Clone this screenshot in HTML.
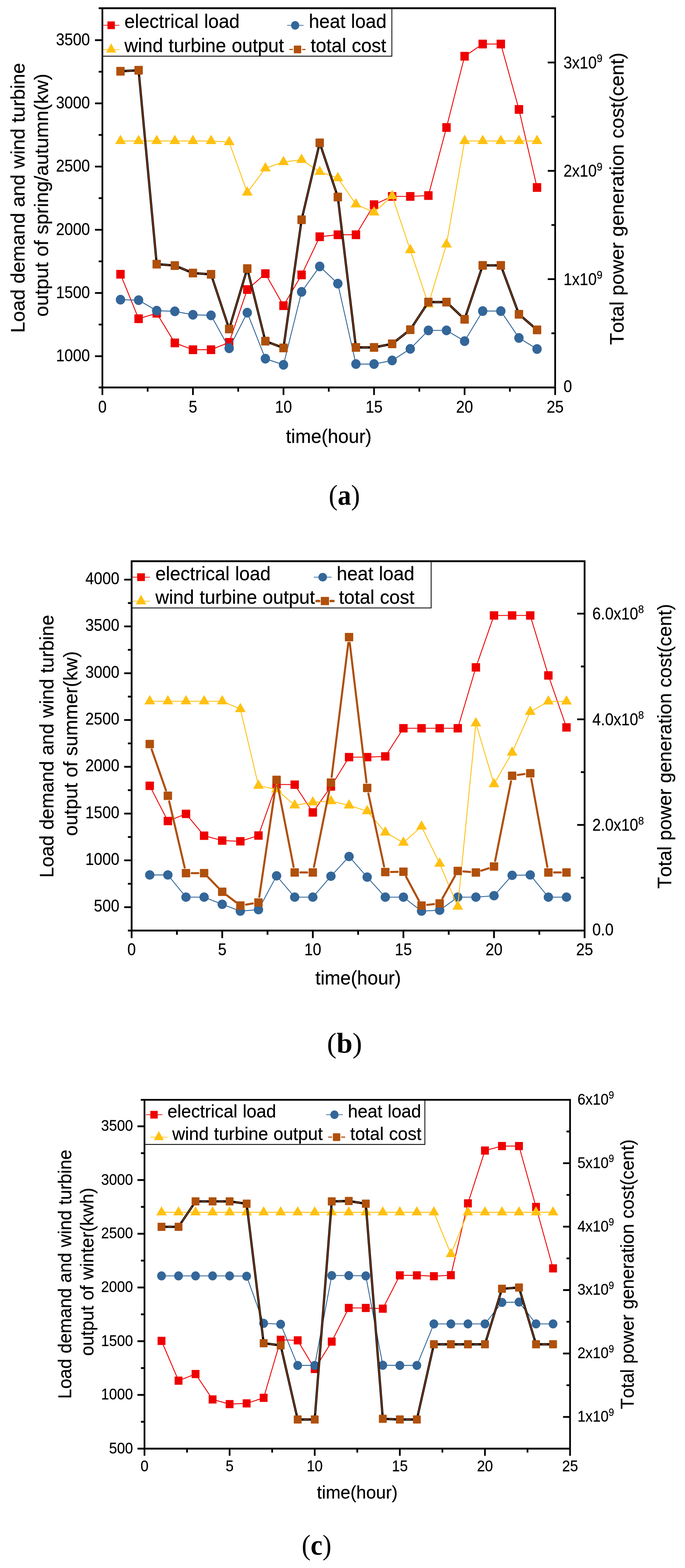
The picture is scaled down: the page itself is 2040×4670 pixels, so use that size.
<!DOCTYPE html>
<html lang="en">
<head>
<meta charset="utf-8">
<title>Load demand, wind turbine output and total power generation cost</title>
<style>
html,body{margin:0;padding:0;background:#fff;}
body{width:2040px;height:4670px;overflow:hidden;font-family:"Liberation Sans",sans-serif;}
svg{display:block;}
text{font-kerning:none;font-variant-ligatures:none;}
</style>
</head>
<body>
<svg width="2040" height="4670" viewBox="0 0 2040 4670" font-family="'Liberation Sans', sans-serif" fill="#000">
<g transform="scale(1 1.04)">
<polyline fill="none" stroke="#ee0000" stroke-width="2.6" points="358.84,785.38 412.77,912.79 466.71,897.12 520.64,982.02 574.58,1001.54 628.52,1001.54 682.45,980.48 736.39,829.23 790.32,783.65 844.26,875.38 898.2,787.21 952.13,677.98 1006.07,672.31 1060,672.31 1113.94,586.15 1167.88,562.5 1221.81,562.5 1275.75,560 1329.68,365.1 1383.62,161.06 1437.56,126.15 1491.49,126.15 1545.43,313.37 1599.36,536.92"/>
<g fill="#ee0000">
<rect x="346.34" y="772.88" width="25" height="25"/>
<rect x="400.27" y="900.29" width="25" height="25"/>
<rect x="454.21" y="884.62" width="25" height="25"/>
<rect x="508.14" y="969.52" width="25" height="25"/>
<rect x="562.08" y="989.04" width="25" height="25"/>
<rect x="616.02" y="989.04" width="25" height="25"/>
<rect x="669.95" y="967.98" width="25" height="25"/>
<rect x="723.89" y="816.73" width="25" height="25"/>
<rect x="777.82" y="771.15" width="25" height="25"/>
<rect x="831.76" y="862.88" width="25" height="25"/>
<rect x="885.7" y="774.71" width="25" height="25"/>
<rect x="939.63" y="665.48" width="25" height="25"/>
<rect x="993.57" y="659.81" width="25" height="25"/>
<rect x="1047.5" y="659.81" width="25" height="25"/>
<rect x="1101.44" y="573.65" width="25" height="25"/>
<rect x="1155.38" y="550" width="25" height="25"/>
<rect x="1209.31" y="550" width="25" height="25"/>
<rect x="1263.25" y="547.5" width="25" height="25"/>
<rect x="1317.18" y="352.6" width="25" height="25"/>
<rect x="1371.12" y="148.56" width="25" height="25"/>
<rect x="1425.06" y="113.65" width="25" height="25"/>
<rect x="1478.99" y="113.65" width="25" height="25"/>
<rect x="1532.93" y="300.87" width="25" height="25"/>
<rect x="1586.86" y="524.42" width="25" height="25"/>
</g>
<polyline fill="none" stroke="#336699" stroke-width="2.6" points="358.84,858.08 412.77,859.71 466.71,889.71 520.64,891.54 574.58,901.54 628.52,903.08 682.45,997.4 736.39,895.38 790.32,1027.21 844.26,1044.62 898.2,835.87 952.13,763.08 1006.07,812.31 1060,1042.6 1113.94,1042.6 1167.88,1032.31 1221.81,998.94 1275.75,946.15 1329.68,946.15 1383.62,976.92 1437.56,890.77 1491.49,890.77 1545.43,967.69 1599.36,999.52"/>
<g fill="#336699">
<circle cx="358.84" cy="858.08" r="13.95"/>
<circle cx="412.77" cy="859.71" r="13.95"/>
<circle cx="466.71" cy="889.71" r="13.95"/>
<circle cx="520.64" cy="891.54" r="13.95"/>
<circle cx="574.58" cy="901.54" r="13.95"/>
<circle cx="628.52" cy="903.08" r="13.95"/>
<circle cx="682.45" cy="997.4" r="13.95"/>
<circle cx="736.39" cy="895.38" r="13.95"/>
<circle cx="790.32" cy="1027.21" r="13.95"/>
<circle cx="844.26" cy="1044.62" r="13.95"/>
<circle cx="898.2" cy="835.87" r="13.95"/>
<circle cx="952.13" cy="763.08" r="13.95"/>
<circle cx="1006.07" cy="812.31" r="13.95"/>
<circle cx="1060" cy="1042.6" r="13.95"/>
<circle cx="1113.94" cy="1042.6" r="13.95"/>
<circle cx="1167.88" cy="1032.31" r="13.95"/>
<circle cx="1221.81" cy="998.94" r="13.95"/>
<circle cx="1275.75" cy="946.15" r="13.95"/>
<circle cx="1329.68" cy="946.15" r="13.95"/>
<circle cx="1383.62" cy="976.92" r="13.95"/>
<circle cx="1437.56" cy="890.77" r="13.95"/>
<circle cx="1491.49" cy="890.77" r="13.95"/>
<circle cx="1545.43" cy="967.69" r="13.95"/>
<circle cx="1599.36" cy="999.52" r="13.95"/>
</g>
<polyline fill="none" stroke="#ffc010" stroke-width="2.6" points="358.84,403.65 412.77,403.65 466.71,403.65 520.64,403.65 574.58,403.65 628.52,403.65 682.45,406.73 736.39,551.15 790.32,481.92 844.26,463.94 898.2,457.69 952.13,492.12 1006.07,510 1060,585 1113.94,608.08 1167.88,561.35 1221.81,716.15 1275.75,871.63 1329.68,699.71 1383.62,403.65 1437.56,403.65 1491.49,403.65 1545.43,403.65 1599.36,403.65"/>
<g fill="#ffc010">
<polygon points="358.84,385.9 342.84,412.53 374.84,412.53"/>
<polygon points="412.77,385.9 396.77,412.53 428.77,412.53"/>
<polygon points="466.71,385.9 450.71,412.53 482.71,412.53"/>
<polygon points="520.64,385.9 504.64,412.53 536.64,412.53"/>
<polygon points="574.58,385.9 558.58,412.53 590.58,412.53"/>
<polygon points="628.52,385.9 612.52,412.53 644.52,412.53"/>
<polygon points="682.45,388.97 666.45,415.61 698.45,415.61"/>
<polygon points="736.39,533.4 720.39,560.03 752.39,560.03"/>
<polygon points="790.32,464.17 774.32,490.8 806.32,490.8"/>
<polygon points="844.26,446.19 828.26,472.82 860.26,472.82"/>
<polygon points="898.2,439.94 882.2,466.57 914.2,466.57"/>
<polygon points="952.13,474.36 936.13,500.99 968.13,500.99"/>
<polygon points="1006.07,492.24 990.07,518.88 1022.07,518.88"/>
<polygon points="1060,567.24 1044,593.88 1076,593.88"/>
<polygon points="1113.94,590.32 1097.94,616.96 1129.94,616.96"/>
<polygon points="1167.88,543.59 1151.88,570.22 1183.88,570.22"/>
<polygon points="1221.81,698.4 1205.81,725.03 1237.81,725.03"/>
<polygon points="1275.75,853.88 1259.75,880.51 1291.75,880.51"/>
<polygon points="1329.68,681.96 1313.68,708.59 1345.68,708.59"/>
<polygon points="1383.62,385.9 1367.62,412.53 1399.62,412.53"/>
<polygon points="1437.56,385.9 1421.56,412.53 1453.56,412.53"/>
<polygon points="1491.49,385.9 1475.49,412.53 1507.49,412.53"/>
<polygon points="1545.43,385.9 1529.43,412.53 1561.43,412.53"/>
<polygon points="1599.36,385.9 1583.36,412.53 1615.36,412.53"/>
</g>
<polyline fill="none" stroke="#000" stroke-width="6.6" stroke-linejoin="miter" points="358.84,204.13 412.77,201.25 466.71,756.44 520.64,760.58 574.58,782.02 628.52,785.58 682.45,942.02 736.39,769.23 790.32,976.92 844.26,996.44 898.2,629.23 952.13,409.23 1006.07,564.13 1060,994.9 1113.94,994.9 1167.88,984.62 1221.81,944.13 1275.75,865.1 1329.68,865.1 1383.62,914.42 1437.56,760 1491.49,760 1545.43,900 1599.36,944.62"/>
<path fill="none" stroke="#b0500c" stroke-width="2.3" stroke-linecap="butt" d="M376.31 203.2L395.3 202.18M414.46 218.67L465.02 739.02M484.16 757.78L503.2 759.24M536.91 767.04L558.32 775.55M592.04 783.17L611.05 784.43M634.22 802.12L676.75 925.47M687.67 925.31L731.17 785.94M740.79 786.17L785.93 959.98M806.78 982.88L827.8 990.49M846.8 979.13L895.65 646.54M902.36 612.23L947.97 426.23M957.89 425.76L1000.31 547.61M1008.24 581.5L1057.83 977.54M1077.5 994.9L1096.44 994.9M1131.13 991.62L1150.69 987.89M1181.87 974.11L1207.82 954.64M1231.68 929.68L1265.88 879.55M1293.25 865.1L1312.18 865.1M1342.6 876.91L1370.71 902.61M1389.39 897.9L1431.79 776.52M1455.06 760L1473.99 760M1497.78 776.33L1539.14 883.67M1558.91 911.15L1585.88 933.46"/>
<g fill="#b0500c">
<rect x="346.34" y="191.63" width="25" height="25" rx="1.5"/>
<rect x="400.27" y="188.75" width="25" height="25" rx="1.5"/>
<rect x="454.21" y="743.94" width="25" height="25" rx="1.5"/>
<rect x="508.14" y="748.08" width="25" height="25" rx="1.5"/>
<rect x="562.08" y="769.52" width="25" height="25" rx="1.5"/>
<rect x="616.02" y="773.08" width="25" height="25" rx="1.5"/>
<rect x="669.95" y="929.52" width="25" height="25" rx="1.5"/>
<rect x="723.89" y="756.73" width="25" height="25" rx="1.5"/>
<rect x="777.82" y="964.42" width="25" height="25" rx="1.5"/>
<rect x="831.76" y="983.94" width="25" height="25" rx="1.5"/>
<rect x="885.7" y="616.73" width="25" height="25" rx="1.5"/>
<rect x="939.63" y="396.73" width="25" height="25" rx="1.5"/>
<rect x="993.57" y="551.63" width="25" height="25" rx="1.5"/>
<rect x="1047.5" y="982.4" width="25" height="25" rx="1.5"/>
<rect x="1101.44" y="982.4" width="25" height="25" rx="1.5"/>
<rect x="1155.38" y="972.12" width="25" height="25" rx="1.5"/>
<rect x="1209.31" y="931.63" width="25" height="25" rx="1.5"/>
<rect x="1263.25" y="852.6" width="25" height="25" rx="1.5"/>
<rect x="1317.18" y="852.6" width="25" height="25" rx="1.5"/>
<rect x="1371.12" y="901.92" width="25" height="25" rx="1.5"/>
<rect x="1425.06" y="747.5" width="25" height="25" rx="1.5"/>
<rect x="1478.99" y="747.5" width="25" height="25" rx="1.5"/>
<rect x="1532.93" y="887.5" width="25" height="25" rx="1.5"/>
<rect x="1586.86" y="932.12" width="25" height="25" rx="1.5"/>
</g>
<rect x="304.9" y="23.56" width="862.1" height="137.31" fill="#fff" stroke="#000" stroke-width="2.4"/>
<line x1="307.6" y1="72.4" x2="356" y2="72.4" stroke="#ee0000" stroke-width="2"/>
<rect x="320" y="61.4" width="22" height="22" fill="#ee0000"/>
<line x1="855" y1="72.6" x2="904" y2="72.6" stroke="#336699" stroke-width="2"/>
<circle cx="879" cy="72.6" r="12.2" fill="#336699"/>
<line x1="307.6" y1="141.83" x2="356" y2="141.83" stroke="#ffc010" stroke-width="2"/>
<polygon fill="#ffc010" points="331,124.33 316.25,150.57 345.75,150.57"/>
<path d="M862 141.63H872.5M899.5 141.63H910" stroke="#b0500c" stroke-width="3.2" stroke-linecap="butt" fill="none"/>
<rect x="875" y="130.63" width="22" height="22" rx="1.5" fill="#b0500c"/>
<g font-size="56" stroke="#000" stroke-width="0.35" word-spacing="1">
<text transform="translate(370.4 79.33) scale(1 0.99)">electrical load</text>
<text transform="translate(919.7 79.33) scale(1 0.99)">heat load</text>
<text transform="translate(370.4 148.75) scale(1 0.99)">wind turbine output</text>
<text transform="translate(925 148.75) scale(1 0.99)">total cost</text>
</g>
<g stroke="#000" stroke-width="5.1" fill="none" stroke-linecap="butt">
<path d="M293.85 23.56H1655.85M293.85 1109.62H1655.85M304.9 23.56V1131.25M1653.3 23.56V1131.25"/>
<path d="M439.74 1109.62V1121.63M574.58 1109.62V1131.25M709.42 1109.62V1121.63M844.26 1109.62V1131.25M979.1 1109.62V1121.63M1113.94 1109.62V1131.25M1248.78 1109.62V1121.63M1383.62 1109.62V1131.25M1518.46 1109.62V1121.63M282.85 1019.98H304.9M293.85 929.47H304.9M282.85 838.97H304.9M293.85 748.46H304.9M282.85 657.96H304.9M293.85 567.45H304.9M282.85 476.95H304.9M293.85 386.44H304.9M282.85 295.94H304.9M293.85 205.43H304.9M282.85 114.93H304.9M1642.25 954.52H1653.3M1631.25 799.42H1653.3M1642.25 644.33H1653.3M1631.25 489.23H1653.3M1642.25 334.13H1653.3M1631.25 179.04H1653.3"/>
</g>
<g font-size="45.5" stroke="#000" stroke-width="0.3">
<g text-anchor="middle">
<text transform="translate(304.9 1182.21) scale(1 1.045)">0</text>
<text transform="translate(574.58 1182.21) scale(1 1.045)">5</text>
<text transform="translate(844.26 1182.21) scale(1 1.045)">10</text>
<text transform="translate(1113.94 1182.21) scale(1 1.045)">15</text>
<text transform="translate(1383.62 1182.21) scale(1 1.045)">20</text>
<text transform="translate(1653.3 1182.21) scale(1 1.045)">25</text>
</g>
<g text-anchor="end">
<text transform="translate(267.9 1034.69) scale(1 1.045)">1000</text>
<text transform="translate(267.9 853.68) scale(1 1.045)">1500</text>
<text transform="translate(267.9 672.67) scale(1 1.045)">2000</text>
<text transform="translate(267.9 491.66) scale(1 1.045)">2500</text>
<text transform="translate(267.9 310.65) scale(1 1.045)">3000</text>
<text transform="translate(267.9 129.64) scale(1 1.045)">3500</text>
</g>
<text transform="translate(1678.3 1123.08) scale(1 1.045)">0</text>
<text transform="translate(1678.3 816.25) scale(1 1.045)">1x10<tspan font-size="30.94" dy="-17.29">9</tspan></text>
<text transform="translate(1678.3 506.06) scale(1 1.045)">2x10<tspan font-size="30.94" dy="-17.29">9</tspan></text>
<text transform="translate(1678.3 195.87) scale(1 1.045)">3x10<tspan font-size="30.94" dy="-17.29">9</tspan></text>
</g>
<g font-size="56" text-anchor="middle" stroke="#000" stroke-width="0.35" word-spacing="1">
<text transform="translate(979.1 1267.98) scale(1 0.99)">time(hour)</text>
<text transform="translate(73 566.59) rotate(-90) scale(1 1.04)">Load demand and wind turbine</text>
<text transform="translate(142.5 558.89) rotate(-90) scale(1 1.04)">output of spring/autumn(kw)</text>
<text transform="translate(1857 569.09) rotate(-90) scale(1 1.04)">Total power generation cost(cent)</text>
</g>
<text transform="translate(1025.6 1444.9) scale(0.95 0.9615)" text-anchor="middle" font-family="'Liberation Serif', 'DejaVu Serif', serif" font-size="84">(<tspan font-weight="bold">a</tspan>)</text>
</g>
<g transform="scale(1 1.0)">
<polyline fill="none" stroke="#ee0000" stroke-width="2.6" points="445.96,2340.3 499.92,2445.3 553.88,2424 607.84,2489 661.8,2503.5 715.76,2505.6 769.72,2488.5 823.68,2336 877.64,2337 931.6,2419.7 985.56,2342.4 1039.52,2255 1093.48,2255 1147.44,2252.8 1201.4,2169 1255.36,2169 1309.32,2169 1363.28,2169 1417.24,1987.7 1471.2,1833 1525.16,1833 1579.12,1833 1633.08,2011.7 1687.04,2166.4"/>
<g fill="#ee0000">
<rect x="433.46" y="2327.8" width="25" height="25"/>
<rect x="487.42" y="2432.8" width="25" height="25"/>
<rect x="541.38" y="2411.5" width="25" height="25"/>
<rect x="595.34" y="2476.5" width="25" height="25"/>
<rect x="649.3" y="2491" width="25" height="25"/>
<rect x="703.26" y="2493.1" width="25" height="25"/>
<rect x="757.22" y="2476" width="25" height="25"/>
<rect x="811.18" y="2323.5" width="25" height="25"/>
<rect x="865.14" y="2324.5" width="25" height="25"/>
<rect x="919.1" y="2407.2" width="25" height="25"/>
<rect x="973.06" y="2329.9" width="25" height="25"/>
<rect x="1027.02" y="2242.5" width="25" height="25"/>
<rect x="1080.98" y="2242.5" width="25" height="25"/>
<rect x="1134.94" y="2240.3" width="25" height="25"/>
<rect x="1188.9" y="2156.5" width="25" height="25"/>
<rect x="1242.86" y="2156.5" width="25" height="25"/>
<rect x="1296.82" y="2156.5" width="25" height="25"/>
<rect x="1350.78" y="2156.5" width="25" height="25"/>
<rect x="1404.74" y="1975.2" width="25" height="25"/>
<rect x="1458.7" y="1820.5" width="25" height="25"/>
<rect x="1512.66" y="1820.5" width="25" height="25"/>
<rect x="1566.62" y="1820.5" width="25" height="25"/>
<rect x="1620.58" y="1999.2" width="25" height="25"/>
<rect x="1674.54" y="2153.9" width="25" height="25"/>
</g>
<polyline fill="none" stroke="#336699" stroke-width="2.6" points="445.96,2605.9 499.92,2605.9 553.88,2672 607.84,2672 661.8,2693.3 715.76,2713.6 769.72,2709.3 823.68,2608.5 877.64,2672 931.6,2672 985.56,2609.6 1039.52,2551 1093.48,2612.3 1147.44,2672 1201.4,2672 1255.36,2713.6 1309.32,2711 1363.28,2672 1417.24,2672 1471.2,2667.7 1525.16,2607 1579.12,2605.9 1633.08,2672 1687.04,2672"/>
<g fill="#336699">
<circle cx="445.96" cy="2605.9" r="13.95"/>
<circle cx="499.92" cy="2605.9" r="13.95"/>
<circle cx="553.88" cy="2672" r="13.95"/>
<circle cx="607.84" cy="2672" r="13.95"/>
<circle cx="661.8" cy="2693.3" r="13.95"/>
<circle cx="715.76" cy="2713.6" r="13.95"/>
<circle cx="769.72" cy="2709.3" r="13.95"/>
<circle cx="823.68" cy="2608.5" r="13.95"/>
<circle cx="877.64" cy="2672" r="13.95"/>
<circle cx="931.6" cy="2672" r="13.95"/>
<circle cx="985.56" cy="2609.6" r="13.95"/>
<circle cx="1039.52" cy="2551" r="13.95"/>
<circle cx="1093.48" cy="2612.3" r="13.95"/>
<circle cx="1147.44" cy="2672" r="13.95"/>
<circle cx="1201.4" cy="2672" r="13.95"/>
<circle cx="1255.36" cy="2713.6" r="13.95"/>
<circle cx="1309.32" cy="2711" r="13.95"/>
<circle cx="1363.28" cy="2672" r="13.95"/>
<circle cx="1417.24" cy="2672" r="13.95"/>
<circle cx="1471.2" cy="2667.7" r="13.95"/>
<circle cx="1525.16" cy="2607" r="13.95"/>
<circle cx="1579.12" cy="2605.9" r="13.95"/>
<circle cx="1633.08" cy="2672" r="13.95"/>
<circle cx="1687.04" cy="2672" r="13.95"/>
</g>
<polyline fill="none" stroke="#ffc010" stroke-width="2.6" points="445.96,2088.5 499.92,2088.5 553.88,2088.5 607.84,2088.5 661.8,2088.5 715.76,2111.7 769.72,2340 823.68,2351 877.64,2398.4 931.6,2389.6 985.56,2385.9 1039.52,2398.7 1093.48,2415.8 1147.44,2479.2 1201.4,2509.6 1255.36,2461.6 1309.32,2572 1363.28,2700 1417.24,2154 1471.2,2335.2 1525.16,2241.3 1579.12,2120 1633.08,2089 1687.04,2089"/>
<g fill="#ffc010">
<polygon points="445.96,2070.03 429.96,2097.73 461.96,2097.73"/>
<polygon points="499.92,2070.03 483.92,2097.73 515.92,2097.73"/>
<polygon points="553.88,2070.03 537.88,2097.73 569.88,2097.73"/>
<polygon points="607.84,2070.03 591.84,2097.73 623.84,2097.73"/>
<polygon points="661.8,2070.03 645.8,2097.73 677.8,2097.73"/>
<polygon points="715.76,2093.23 699.76,2120.93 731.76,2120.93"/>
<polygon points="769.72,2321.53 753.72,2349.23 785.72,2349.23"/>
<polygon points="823.68,2332.53 807.68,2360.23 839.68,2360.23"/>
<polygon points="877.64,2379.93 861.64,2407.63 893.64,2407.63"/>
<polygon points="931.6,2371.13 915.6,2398.83 947.6,2398.83"/>
<polygon points="985.56,2367.43 969.56,2395.13 1001.56,2395.13"/>
<polygon points="1039.52,2380.23 1023.52,2407.93 1055.52,2407.93"/>
<polygon points="1093.48,2397.33 1077.48,2425.03 1109.48,2425.03"/>
<polygon points="1147.44,2460.73 1131.44,2488.43 1163.44,2488.43"/>
<polygon points="1201.4,2491.13 1185.4,2518.83 1217.4,2518.83"/>
<polygon points="1255.36,2443.13 1239.36,2470.83 1271.36,2470.83"/>
<polygon points="1309.32,2553.53 1293.32,2581.23 1325.32,2581.23"/>
<polygon points="1363.28,2681.53 1347.28,2709.23 1379.28,2709.23"/>
<polygon points="1417.24,2135.53 1401.24,2163.23 1433.24,2163.23"/>
<polygon points="1471.2,2316.73 1455.2,2344.43 1487.2,2344.43"/>
<polygon points="1525.16,2222.83 1509.16,2250.53 1541.16,2250.53"/>
<polygon points="1579.12,2101.53 1563.12,2129.23 1595.12,2129.23"/>
<polygon points="1633.08,2070.53 1617.08,2098.23 1649.08,2098.23"/>
<polygon points="1687.04,2070.53 1671.04,2098.23 1703.04,2098.23"/>
</g>
<path fill="none" stroke="#b0500c" stroke-width="6.1" stroke-linecap="round" d="M451.58 2232.04L494.3 2354.06M503.8 2386.65L550 2583.95M570.88 2600.5L590.84 2600.5M619.69 2612.69L649.95 2643.81M675.34 2666.28L702.22 2686.72M732.53 2694.2L752.95 2690.8M772.2 2671.18L821.2 2339.52M826.95 2339.38L874.37 2581.72M894.64 2598.4L914.6 2598.4M934.96 2581.74L982.2 2347.36M987.66 2313.83L1037.42 1914.47M1041.55 1914.48L1091.45 2329.82M1097.06 2363.32L1143.86 2580.68M1164.44 2596.99L1184.4 2596.61M1209.43 2611.28L1247.33 2682.02M1272.25 2695.03L1292.43 2692.67M1317.6 2675.85L1355 2608.85M1380.22 2595.38L1400.3 2597.02M1433.4 2593.13L1455.04 2586.07M1474.53 2564.13L1521.83 2327.07M1542 2308.09L1562.28 2305.31M1582.17 2319.72L1630.03 2581.68M1650.08 2598.4L1670.04 2598.4"/>
<g fill="#b0500c">
<rect x="433.46" y="2203.5" width="25" height="25" rx="1.5"/>
<rect x="487.42" y="2357.6" width="25" height="25" rx="1.5"/>
<rect x="541.38" y="2588" width="25" height="25" rx="1.5"/>
<rect x="595.34" y="2588" width="25" height="25" rx="1.5"/>
<rect x="649.3" y="2643.5" width="25" height="25" rx="1.5"/>
<rect x="703.26" y="2684.5" width="25" height="25" rx="1.5"/>
<rect x="757.22" y="2675.5" width="25" height="25" rx="1.5"/>
<rect x="811.18" y="2310.2" width="25" height="25" rx="1.5"/>
<rect x="865.14" y="2585.9" width="25" height="25" rx="1.5"/>
<rect x="919.1" y="2585.9" width="25" height="25" rx="1.5"/>
<rect x="973.06" y="2318.2" width="25" height="25" rx="1.5"/>
<rect x="1027.02" y="1885.1" width="25" height="25" rx="1.5"/>
<rect x="1080.98" y="2334.2" width="25" height="25" rx="1.5"/>
<rect x="1134.94" y="2584.8" width="25" height="25" rx="1.5"/>
<rect x="1188.9" y="2583.8" width="25" height="25" rx="1.5"/>
<rect x="1242.86" y="2684.5" width="25" height="25" rx="1.5"/>
<rect x="1296.82" y="2678.2" width="25" height="25" rx="1.5"/>
<rect x="1350.78" y="2581.5" width="25" height="25" rx="1.5"/>
<rect x="1404.74" y="2585.9" width="25" height="25" rx="1.5"/>
<rect x="1458.7" y="2568.3" width="25" height="25" rx="1.5"/>
<rect x="1512.66" y="2297.9" width="25" height="25" rx="1.5"/>
<rect x="1566.62" y="2290.5" width="25" height="25" rx="1.5"/>
<rect x="1620.58" y="2585.9" width="25" height="25" rx="1.5"/>
<rect x="1674.54" y="2585.9" width="25" height="25" rx="1.5"/>
</g>
<rect x="392" y="1671.5" width="892" height="139.2" fill="#fff" stroke="#000" stroke-width="2.4"/>
<line x1="395" y1="1719" x2="446.7" y2="1719" stroke="#ee0000" stroke-width="2"/>
<rect x="408.45" y="1707.45" width="23.1" height="23.1" fill="#ee0000"/>
<line x1="934.4" y1="1719" x2="987.7" y2="1719" stroke="#336699" stroke-width="2"/>
<circle cx="961" cy="1719" r="12.81" fill="#336699"/>
<line x1="395" y1="1790.4" x2="446.7" y2="1790.4" stroke="#ffc010" stroke-width="2"/>
<polygon fill="#ffc010" points="420,1771.3 404.51,1799.95 435.49,1799.95"/>
<path d="M942.8 1790H950.6M984.6 1790H993.2" stroke="#b0500c" stroke-width="7.2" stroke-linecap="round" fill="none"/>
<rect x="955.35" y="1777.75" width="24.5" height="24.5" rx="1.5" fill="#b0500c"/>
<g font-size="56" stroke="#000" stroke-width="0.35" word-spacing="1">
<text transform="translate(462.7 1728) scale(1 1.03)">electrical load</text>
<text transform="translate(1002.8 1728) scale(1 1.03)">heat load</text>
<text transform="translate(462.7 1798.4) scale(1 1.03)">wind turbine output</text>
<text transform="translate(1009.2 1798.4) scale(1 1.03)">total cost</text>
</g>
<g stroke="#000" stroke-width="5.3" fill="none" stroke-linecap="butt">
<path d="M389.35 1671.5H1743.65M380.85 2771.5H1743.65M392 1671.5V2794M1741 1671.5V2794"/>
<path d="M526.9 2771.5V2784M661.8 2771.5V2794M796.7 2771.5V2784M931.6 2771.5V2794M1066.5 2771.5V2784M1201.4 2771.5V2794M1336.3 2771.5V2784M1471.2 2771.5V2794M1606.1 2771.5V2784M369.85 2701.8H392M380.85 2632.12H392M369.85 2562.45H392M380.85 2492.78H392M369.85 2423.1H392M380.85 2353.43H392M369.85 2283.75H392M380.85 2214.08H392M369.85 2144.4H392M380.85 2074.73H392M369.85 2005.05H392M380.85 1935.38H392M369.85 1865.7H392M380.85 1796.03H392M369.85 1726.35H392M1729.85 2614.2H1741M1718.85 2456.9H1741M1729.85 2299.6H1741M1718.85 2142.3H1741M1729.85 1985H1741M1718.85 1827.7H1741"/>
</g>
<g font-size="45.5" stroke="#000" stroke-width="0.3">
<g text-anchor="middle">
<text transform="translate(392 2845) scale(1 1.085)">0</text>
<text transform="translate(661.8 2845) scale(1 1.085)">5</text>
<text transform="translate(931.6 2845) scale(1 1.085)">10</text>
<text transform="translate(1201.4 2845) scale(1 1.085)">15</text>
<text transform="translate(1471.2 2845) scale(1 1.085)">20</text>
<text transform="translate(1741 2845) scale(1 1.085)">25</text>
</g>
<g text-anchor="end">
<text transform="translate(355.5 2715.3) scale(1 1.085)">500</text>
<text transform="translate(355.5 2575.95) scale(1 1.085)">1000</text>
<text transform="translate(355.5 2436.6) scale(1 1.085)">1500</text>
<text transform="translate(355.5 2297.25) scale(1 1.085)">2000</text>
<text transform="translate(355.5 2157.9) scale(1 1.085)">2500</text>
<text transform="translate(355.5 2018.55) scale(1 1.085)">3000</text>
<text transform="translate(355.5 1879.2) scale(1 1.085)">3500</text>
<text transform="translate(355.5 1739.85) scale(1 1.085)">4000</text>
</g>
<text transform="translate(1764 2785.5) scale(1 1.085)">0.0</text>
<text transform="translate(1764 2474.4) scale(1 1.085)">2.0x10<tspan font-size="30.94" dy="-17.29">8</tspan></text>
<text transform="translate(1764 2159.8) scale(1 1.085)">4.0x10<tspan font-size="30.94" dy="-17.29">8</tspan></text>
<text transform="translate(1764 1845.2) scale(1 1.085)">6.0x10<tspan font-size="30.94" dy="-17.29">8</tspan></text>
</g>
<g font-size="56" text-anchor="middle" stroke="#000" stroke-width="0.35" word-spacing="1">
<text transform="translate(1066.5 2932) scale(1 1.03)">time(hour)</text>
<text transform="translate(158.7 2222.7) rotate(-90) scale(1.013 1.04)">Load demand and wind turbine</text>
<text transform="translate(229.6 2214.5) rotate(-90) scale(1.013 1.04)">output of summer(kw)</text>
<text transform="translate(1999 2222.5) rotate(-90) scale(1.013 1.04)">Total power generation cost(cent)</text>
</g>
<text transform="translate(1026 3134.7) scale(1.02 1)" text-anchor="middle" font-family="'Liberation Serif', 'DejaVu Serif', serif" font-size="84">(<tspan font-weight="bold">b</tspan>)</text>
</g>
<g transform="scale(1 1.04)">
<polyline fill="none" stroke="#ee0000" stroke-width="2.6" points="481,3840 531.69,3953.85 582.39,3934.9 633.08,4007.69 683.78,4021.06 734.48,4018.94 785.17,4003.08 835.87,3836.92 886.56,3838.46 937.26,3920.48 987.96,3842.02 1038.65,3745.67 1089.35,3745.67 1140.04,3747.69 1190.74,3652.31 1241.44,3652.31 1292.13,3654.81 1342.83,3651.83 1393.52,3446.15 1444.22,3294.9 1494.92,3282.02 1545.61,3282.02 1596.31,3456.44 1647,3632.31"/>
<g fill="#ee0000">
<rect x="469.31" y="3828.31" width="23.38" height="23.38"/>
<rect x="520" y="3942.16" width="23.38" height="23.38"/>
<rect x="570.7" y="3923.22" width="23.38" height="23.38"/>
<rect x="621.4" y="3996" width="23.38" height="23.38"/>
<rect x="672.09" y="4009.37" width="23.38" height="23.38"/>
<rect x="722.79" y="4007.25" width="23.38" height="23.38"/>
<rect x="773.48" y="3991.39" width="23.38" height="23.38"/>
<rect x="824.18" y="3825.24" width="23.38" height="23.38"/>
<rect x="874.88" y="3826.77" width="23.38" height="23.38"/>
<rect x="925.57" y="3908.79" width="23.38" height="23.38"/>
<rect x="976.27" y="3830.33" width="23.38" height="23.38"/>
<rect x="1026.96" y="3733.99" width="23.38" height="23.38"/>
<rect x="1077.66" y="3733.99" width="23.38" height="23.38"/>
<rect x="1128.36" y="3736" width="23.38" height="23.38"/>
<rect x="1179.05" y="3640.62" width="23.38" height="23.38"/>
<rect x="1229.75" y="3640.62" width="23.38" height="23.38"/>
<rect x="1280.44" y="3643.12" width="23.38" height="23.38"/>
<rect x="1331.14" y="3640.14" width="23.38" height="23.38"/>
<rect x="1381.84" y="3434.47" width="23.38" height="23.38"/>
<rect x="1432.53" y="3283.22" width="23.38" height="23.38"/>
<rect x="1483.23" y="3270.33" width="23.38" height="23.38"/>
<rect x="1533.92" y="3270.33" width="23.38" height="23.38"/>
<rect x="1584.62" y="3444.75" width="23.38" height="23.38"/>
<rect x="1635.32" y="3620.62" width="23.38" height="23.38"/>
</g>
<polyline fill="none" stroke="#336699" stroke-width="2.6" points="481,3653.85 531.69,3653.85 582.39,3653.85 633.08,3653.85 683.78,3653.85 734.48,3654.81 785.17,3789.71 835.87,3792.31 886.56,3910.29 937.26,3910.29 987.96,3652.88 1038.65,3652.88 1089.35,3653.85 1140.04,3909.71 1190.74,3910.29 1241.44,3910.29 1292.13,3791.35 1342.83,3791.35 1393.52,3791.35 1444.22,3791.35 1494.92,3729.81 1545.61,3728.85 1596.31,3791.35 1647,3791.35"/>
<g fill="#336699">
<circle cx="481" cy="3653.85" r="13.04"/>
<circle cx="531.69" cy="3653.85" r="13.04"/>
<circle cx="582.39" cy="3653.85" r="13.04"/>
<circle cx="633.08" cy="3653.85" r="13.04"/>
<circle cx="683.78" cy="3653.85" r="13.04"/>
<circle cx="734.48" cy="3654.81" r="13.04"/>
<circle cx="785.17" cy="3789.71" r="13.04"/>
<circle cx="835.87" cy="3792.31" r="13.04"/>
<circle cx="886.56" cy="3910.29" r="13.04"/>
<circle cx="937.26" cy="3910.29" r="13.04"/>
<circle cx="987.96" cy="3652.88" r="13.04"/>
<circle cx="1038.65" cy="3652.88" r="13.04"/>
<circle cx="1089.35" cy="3653.85" r="13.04"/>
<circle cx="1140.04" cy="3909.71" r="13.04"/>
<circle cx="1190.74" cy="3910.29" r="13.04"/>
<circle cx="1241.44" cy="3910.29" r="13.04"/>
<circle cx="1292.13" cy="3791.35" r="13.04"/>
<circle cx="1342.83" cy="3791.35" r="13.04"/>
<circle cx="1393.52" cy="3791.35" r="13.04"/>
<circle cx="1444.22" cy="3791.35" r="13.04"/>
<circle cx="1494.92" cy="3729.81" r="13.04"/>
<circle cx="1545.61" cy="3728.85" r="13.04"/>
<circle cx="1596.31" cy="3791.35" r="13.04"/>
<circle cx="1647" cy="3791.35" r="13.04"/>
</g>
<polyline fill="none" stroke="#ffc010" stroke-width="2.6" points="481,3471.83 531.69,3471.83 582.39,3471.83 633.08,3471.83 683.78,3471.83 734.48,3471.83 785.17,3471.83 835.87,3471.83 886.56,3471.83 937.26,3471.83 987.96,3471.83 1038.65,3471.83 1089.35,3471.83 1140.04,3471.83 1190.74,3471.83 1241.44,3471.83 1292.13,3471.83 1342.83,3591.35 1393.52,3471.83 1444.22,3471.83 1494.92,3471.83 1545.61,3471.83 1596.31,3471.83 1647,3471.83"/>
<g fill="#ffc010">
<polygon points="481,3454.33 465.35,3480.58 496.65,3480.58"/>
<polygon points="531.69,3454.33 516.04,3480.58 547.34,3480.58"/>
<polygon points="582.39,3454.33 566.74,3480.58 598.04,3480.58"/>
<polygon points="633.08,3454.33 617.43,3480.58 648.73,3480.58"/>
<polygon points="683.78,3454.33 668.13,3480.58 699.43,3480.58"/>
<polygon points="734.48,3454.33 718.83,3480.58 750.13,3480.58"/>
<polygon points="785.17,3454.33 769.52,3480.58 800.82,3480.58"/>
<polygon points="835.87,3454.33 820.22,3480.58 851.52,3480.58"/>
<polygon points="886.56,3454.33 870.91,3480.58 902.21,3480.58"/>
<polygon points="937.26,3454.33 921.61,3480.58 952.91,3480.58"/>
<polygon points="987.96,3454.33 972.31,3480.58 1003.61,3480.58"/>
<polygon points="1038.65,3454.33 1023,3480.58 1054.3,3480.58"/>
<polygon points="1089.35,3454.33 1073.7,3480.58 1105,3480.58"/>
<polygon points="1140.04,3454.33 1124.39,3480.58 1155.69,3480.58"/>
<polygon points="1190.74,3454.33 1175.09,3480.58 1206.39,3480.58"/>
<polygon points="1241.44,3454.33 1225.79,3480.58 1257.09,3480.58"/>
<polygon points="1292.13,3454.33 1276.48,3480.58 1307.78,3480.58"/>
<polygon points="1342.83,3573.85 1327.18,3600.1 1358.48,3600.1"/>
<polygon points="1393.52,3454.33 1377.87,3480.58 1409.17,3480.58"/>
<polygon points="1444.22,3454.33 1428.57,3480.58 1459.87,3480.58"/>
<polygon points="1494.92,3454.33 1479.27,3480.58 1510.57,3480.58"/>
<polygon points="1545.61,3454.33 1529.96,3480.58 1561.26,3480.58"/>
<polygon points="1596.31,3454.33 1580.66,3480.58 1611.96,3480.58"/>
<polygon points="1647,3454.33 1631.35,3480.58 1662.65,3480.58"/>
</g>
<polyline fill="none" stroke="#000" stroke-width="6.6" stroke-linejoin="miter" points="481,3513.37 531.69,3513.37 582.39,3440.48 633.08,3440.48 683.78,3440.48 734.48,3447.12 785.17,3846.63 835.87,3852.88 886.56,4065.1 937.26,4065.1 987.96,3440.48 1038.65,3439.42 1089.35,3447.12 1140.04,4063.08 1190.74,4065.1 1241.44,4065.1 1292.13,3849.71 1342.83,3849.71 1393.52,3849.71 1444.22,3849.71 1494.92,3690.77 1545.61,3687.21 1596.31,3849.71 1647,3849.71"/>
<path fill="none" stroke="#b0500c" stroke-width="2.3" stroke-linecap="butt" d="M498.5 3513.37L514.19 3513.37M541.68 3499L572.4 3454.85M599.89 3440.48L615.58 3440.48M650.58 3440.48L666.28 3440.48M701.13 3442.75L717.12 3444.84M736.68 3464.48L782.97 3829.27M802.54 3848.78L818.5 3850.74M839.93 3869.91L882.5 4048.08M904.06 4065.1L919.76 4065.1M938.68 4047.65L986.54 3457.92M1005.45 3440.12L1021.16 3439.79M1055.95 3442.05L1072.05 3444.49M1090.78 3464.56L1138.61 4045.64M1157.53 4063.77L1173.25 4064.4M1208.24 4065.1L1223.94 4065.1M1245.45 4048.06L1288.12 3866.75M1309.63 3849.71L1325.33 3849.71M1360.33 3849.71L1376.02 3849.71M1411.02 3849.71L1426.72 3849.71M1449.54 3833.04L1489.6 3707.44M1512.37 3689.54L1528.15 3688.44M1550.82 3703.92L1591.1 3833.01M1613.81 3849.71L1629.5 3849.71"/>
<g fill="#b0500c">
<rect x="469.31" y="3501.68" width="23.38" height="23.38" rx="1.5"/>
<rect x="520" y="3501.68" width="23.38" height="23.38" rx="1.5"/>
<rect x="570.7" y="3428.79" width="23.38" height="23.38" rx="1.5"/>
<rect x="621.4" y="3428.79" width="23.38" height="23.38" rx="1.5"/>
<rect x="672.09" y="3428.79" width="23.38" height="23.38" rx="1.5"/>
<rect x="722.79" y="3435.43" width="23.38" height="23.38" rx="1.5"/>
<rect x="773.48" y="3834.95" width="23.38" height="23.38" rx="1.5"/>
<rect x="824.18" y="3841.2" width="23.38" height="23.38" rx="1.5"/>
<rect x="874.88" y="4053.41" width="23.38" height="23.38" rx="1.5"/>
<rect x="925.57" y="4053.41" width="23.38" height="23.38" rx="1.5"/>
<rect x="976.27" y="3428.79" width="23.38" height="23.38" rx="1.5"/>
<rect x="1026.96" y="3427.74" width="23.38" height="23.38" rx="1.5"/>
<rect x="1077.66" y="3435.43" width="23.38" height="23.38" rx="1.5"/>
<rect x="1128.36" y="4051.39" width="23.38" height="23.38" rx="1.5"/>
<rect x="1179.05" y="4053.41" width="23.38" height="23.38" rx="1.5"/>
<rect x="1229.75" y="4053.41" width="23.38" height="23.38" rx="1.5"/>
<rect x="1280.44" y="3838.02" width="23.38" height="23.38" rx="1.5"/>
<rect x="1331.14" y="3838.02" width="23.38" height="23.38" rx="1.5"/>
<rect x="1381.84" y="3838.02" width="23.38" height="23.38" rx="1.5"/>
<rect x="1432.53" y="3838.02" width="23.38" height="23.38" rx="1.5"/>
<rect x="1483.23" y="3679.08" width="23.38" height="23.38" rx="1.5"/>
<rect x="1533.92" y="3675.52" width="23.38" height="23.38" rx="1.5"/>
<rect x="1584.62" y="3838.02" width="23.38" height="23.38" rx="1.5"/>
<rect x="1635.32" y="3838.02" width="23.38" height="23.38" rx="1.5"/>
</g>
<rect x="430.3" y="3149.71" width="835" height="127.69" fill="#fff" stroke="#000" stroke-width="2.4"/>
<line x1="434.7" y1="3192.31" x2="483.7" y2="3192.31" stroke="#ee0000" stroke-width="2"/>
<rect x="447.7" y="3181.31" width="22" height="22" fill="#ee0000"/>
<line x1="971" y1="3192.31" x2="1021" y2="3192.31" stroke="#336699" stroke-width="2"/>
<circle cx="996" cy="3192.31" r="12.2" fill="#336699"/>
<line x1="448" y1="3256.44" x2="498.7" y2="3256.44" stroke="#ffc010" stroke-width="2"/>
<polygon fill="#ffc010" points="473,3238.95 458.25,3265.19 487.75,3265.19"/>
<path d="M977.3 3256.44H988.9M1015.9 3256.44H1028" stroke="#b0500c" stroke-width="3.2" stroke-linecap="butt" fill="none"/>
<rect x="991.4" y="3245.44" width="22" height="22" rx="1.5" fill="#b0500c"/>
<g font-size="52.8" stroke="#000" stroke-width="0.35" word-spacing="1">
<text transform="translate(498.7 3200) scale(1 0.99)">electrical load</text>
<text transform="translate(1036 3200) scale(1 0.99)">heat load</text>
<text transform="translate(513 3264.13) scale(1 0.99)">wind turbine output</text>
<text transform="translate(1043 3264.13) scale(1 0.99)">total cost</text>
</g>
<g stroke="#000" stroke-width="5.1" fill="none" stroke-linecap="butt">
<path d="M419.25 3149.71H1700.25M409.42 4148.56H1700.25M430.3 3149.71V4168.89M1697.7 3149.71V4168.89"/>
<path d="M557.04 4148.56V4159.86M683.78 4148.56V4168.89M810.52 4148.56V4159.86M937.26 4148.56V4168.89M1064 4148.56V4159.86M1190.74 4148.56V4168.89M1317.48 4148.56V4159.86M1444.22 4148.56V4168.89M1570.96 4148.56V4159.86M419.76 4071.63H430.3M409.42 3994.71H430.3M419.76 3917.79H430.3M409.42 3840.87H430.3M419.76 3763.94H430.3M409.42 3687.02H430.3M419.76 3610.1H430.3M409.42 3533.17H430.3M419.76 3456.25H430.3M409.42 3379.33H430.3M419.76 3302.4H430.3M409.42 3225.48H430.3M1676.82 4057.74H1697.7M1687.16 3966.92H1697.7M1676.82 3876.11H1697.7M1687.16 3785.29H1697.7M1676.82 3694.47H1697.7M1687.16 3603.65H1697.7M1676.82 3512.84H1697.7M1687.16 3422.02H1697.7M1676.82 3331.2H1697.7M1687.16 3240.38H1697.7"/>
</g>
<g font-size="42.8" stroke="#000" stroke-width="0.3">
<g text-anchor="middle">
<text transform="translate(430.3 4213.94) scale(1 1.045)">0</text>
<text transform="translate(683.78 4213.94) scale(1 1.045)">5</text>
<text transform="translate(937.26 4213.94) scale(1 1.045)">10</text>
<text transform="translate(1190.74 4213.94) scale(1 1.045)">15</text>
<text transform="translate(1444.22 4213.94) scale(1 1.045)">20</text>
<text transform="translate(1697.7 4213.94) scale(1 1.045)">25</text>
</g>
<g text-anchor="end">
<text transform="translate(396.1 4162.02) scale(1 1.045)">500</text>
<text transform="translate(396.1 4008.17) scale(1 1.045)">1000</text>
<text transform="translate(396.1 3854.33) scale(1 1.045)">1500</text>
<text transform="translate(396.1 3700.48) scale(1 1.045)">2000</text>
<text transform="translate(396.1 3546.63) scale(1 1.045)">2500</text>
<text transform="translate(396.1 3392.79) scale(1 1.045)">3000</text>
<text transform="translate(396.1 3238.94) scale(1 1.045)">3500</text>
</g>
<text transform="translate(1719.7 4071.39) scale(1 1.045)">1x10<tspan font-size="29.1" dy="-16.26">9</tspan></text>
<text transform="translate(1719.7 3889.76) scale(1 1.045)">2x10<tspan font-size="29.1" dy="-16.26">9</tspan></text>
<text transform="translate(1719.7 3708.12) scale(1 1.045)">3x10<tspan font-size="29.1" dy="-16.26">9</tspan></text>
<text transform="translate(1719.7 3526.49) scale(1 1.045)">4x10<tspan font-size="29.1" dy="-16.26">9</tspan></text>
<text transform="translate(1719.7 3344.86) scale(1 1.045)">5x10<tspan font-size="29.1" dy="-16.26">9</tspan></text>
<text transform="translate(1719.7 3163.22) scale(1 1.045)">6x10<tspan font-size="29.1" dy="-16.26">9</tspan></text>
</g>
<g font-size="52.8" text-anchor="middle" stroke="#000" stroke-width="0.35" word-spacing="1">
<text transform="translate(1064 4291.35) scale(1 0.99)">time(hour)</text>
<text transform="translate(211.5 3649.13) rotate(-90) scale(0.979 1.04)">Load demand and wind turbine</text>
<text transform="translate(278 3642.12) rotate(-90) scale(0.979 1.04)">output of winter(kwh)</text>
<text transform="translate(1887.4 3649.13) rotate(-90) scale(0.979 1.04)">Total power generation cost(cent)</text>
</g>
<text transform="translate(942.7 4451.92) scale(0.95 0.9615)" text-anchor="middle" font-family="'Liberation Serif', 'DejaVu Serif', serif" font-size="84">(<tspan font-weight="bold">c</tspan>)</text>
</g>
</svg>
</body>
</html>
